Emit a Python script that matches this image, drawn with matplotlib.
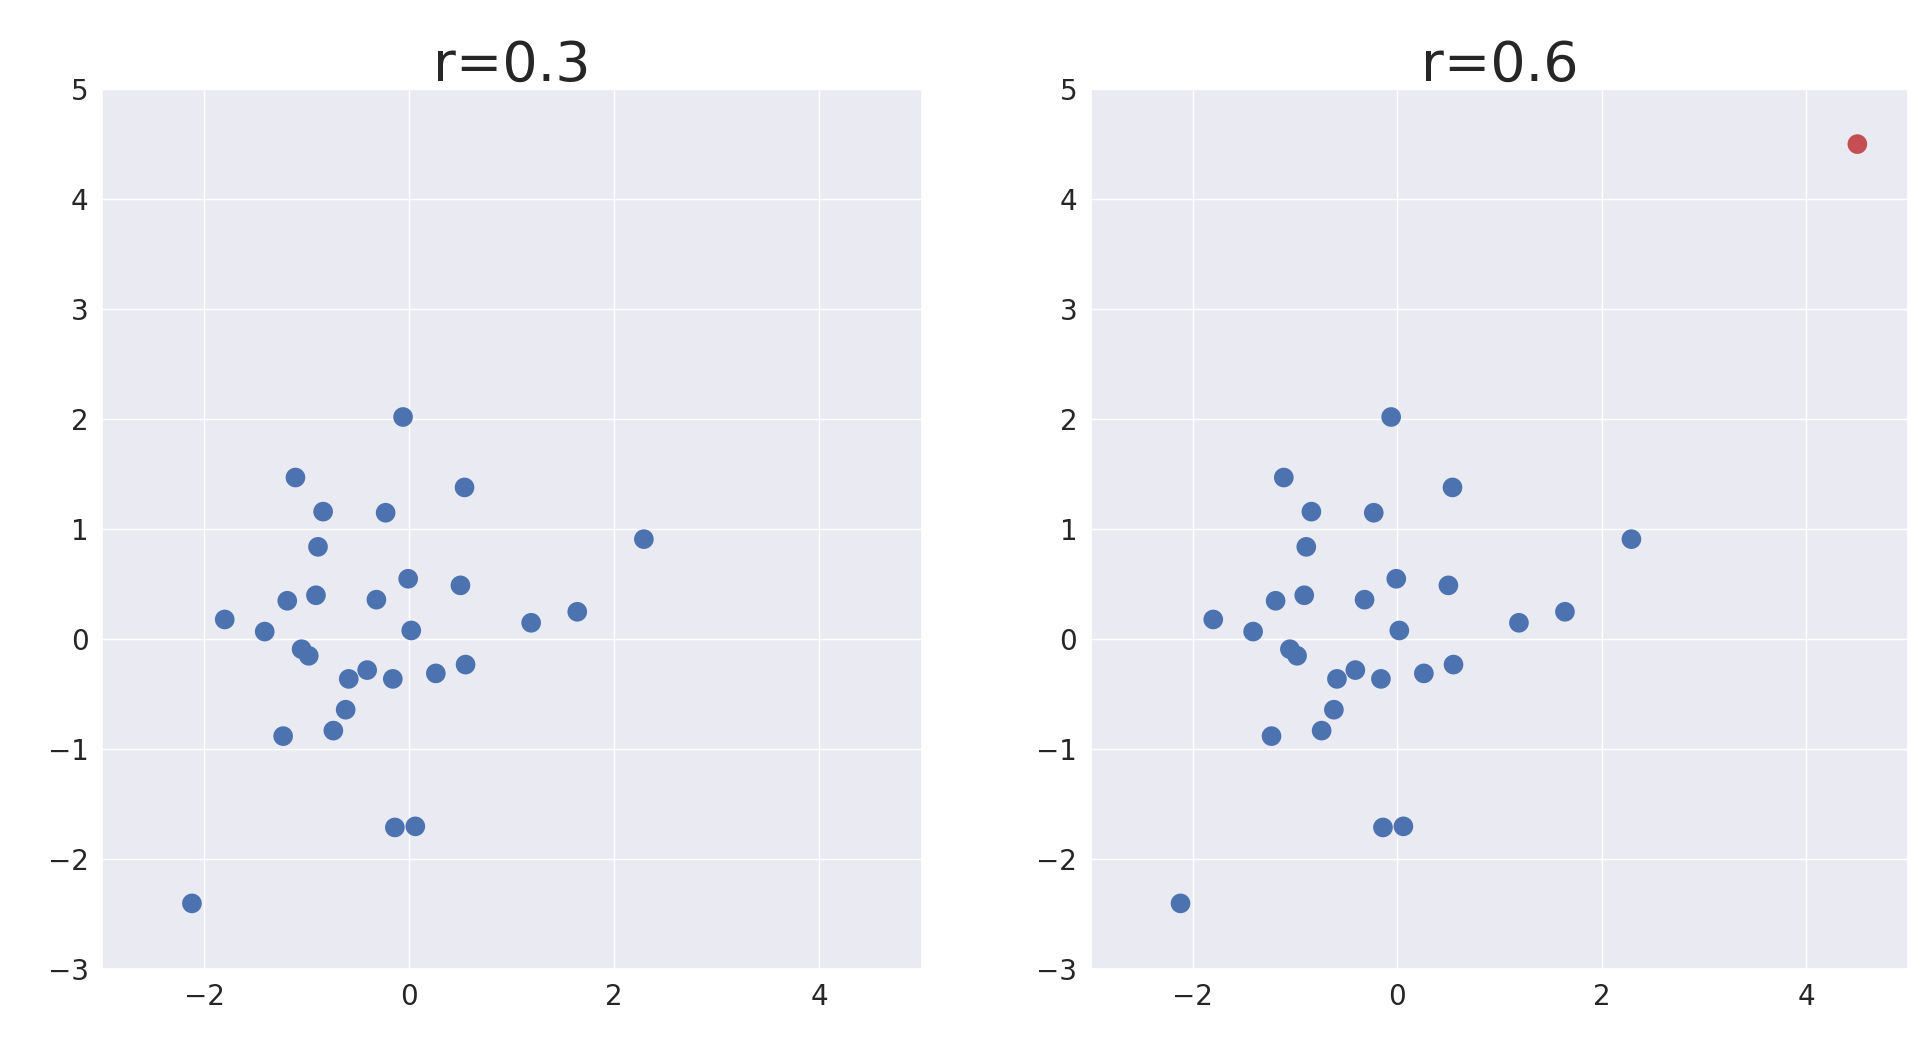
import numpy as np
import seaborn as sns
from matplotlib import pyplot as plt

sns.set_theme(style="darkgrid")
plt.rcParams['font.family'] = ['DejaVu Sans']

x = [-2.12, -1.80, -1.41, -1.23, -1.19, -1.11, -1.05, -0.98, -0.91, -0.89,
     -0.84, -0.74, -0.62, -0.59, -0.41, -0.32, -0.23, -0.16, -0.14, -0.06,
     -0.01, 0.02, 0.06, 0.26, 0.50, 0.54, 0.55, 1.19, 1.64, 2.29]
y = [-2.40, 0.18, 0.07, -0.88, 0.35, 1.47, -0.09, -0.15, 0.40, 0.84,
     1.16, -0.83, -0.64, -0.36, -0.28, 0.36, 1.15, -0.36, -1.71, 2.02,
     0.55, 0.08, -1.70, -0.31, 0.49, 1.38, -0.23, 0.15, 0.25, 0.91]
outlier = (4.5, 4.5)
titles = ["r=0.3", "r=0.6"]

blue, red = sns.color_palette("deep")[0], sns.color_palette("deep")[3]

fig = plt.figure(figsize=(19.2, 10.48), dpi=100)
ax1 = fig.add_axes([0.053, 0.075, 0.427, 0.84])
ax2 = fig.add_axes([0.568, 0.075, 0.426, 0.84])

for i, ax in enumerate([ax1, ax2]):
    ax.scatter(x, y, s=200, color=blue, edgecolors='none')
    if i == 1:
        ax.scatter([outlier[0]], [outlier[1]], s=200, color=red, edgecolors='none')
    ax.set_xlim(-3, 5)
    ax.set_ylim(-3, 5)
    ax.set_xticks([-2, 0, 2, 4])
    ax.set_yticks(np.arange(-3, 6))
    ax.tick_params(labelsize=20)
    ax.set_title(titles[i], fontsize=40)

fig.savefig("out.png")
